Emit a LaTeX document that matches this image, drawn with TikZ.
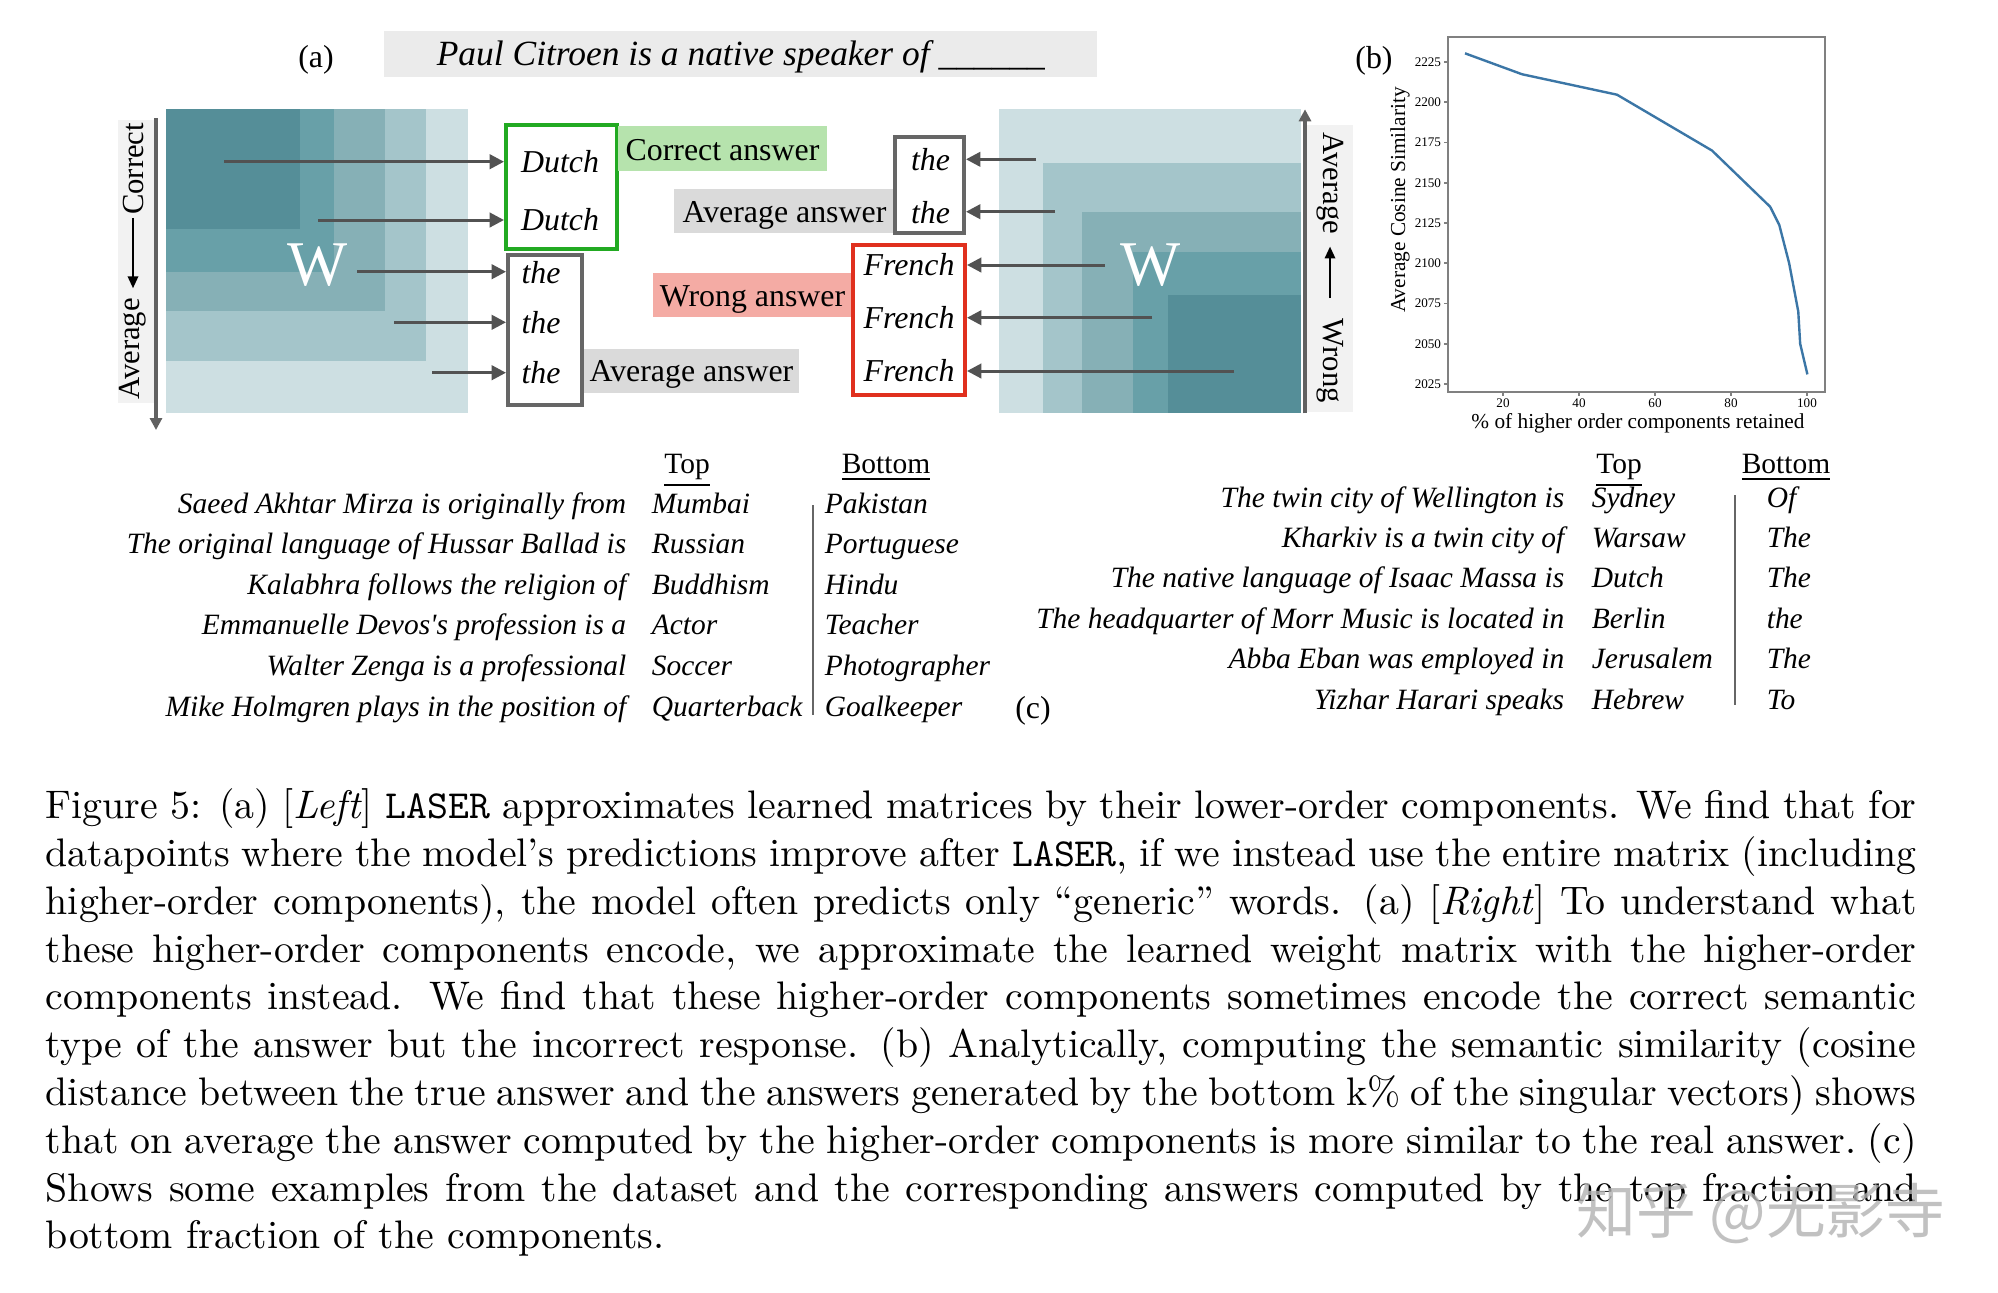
\documentclass[tikz,border=0pt]{standalone}
\usepackage{fontspec}
\newfontfamily\tnr{Liberation Serif}
\newfontfamily\cjk{Noto Sans CJK SC}
\usetikzlibrary{arrows.meta,fit}
\definecolor{matA}{HTML}{CDDFE2}
\definecolor{matB}{HTML}{A4C5CA}
\definecolor{matC}{HTML}{86B0B6}
\definecolor{matD}{HTML}{68A0A8}
\definecolor{matE}{HTML}{558E98}
\definecolor{okgreen}{HTML}{22AA22}
\definecolor{okbg}{HTML}{B6E3AD}
\definecolor{badred}{HTML}{E0301E}
\definecolor{badbg}{HTML}{F4ABA4}
\definecolor{avgbg}{HTML}{DADADA}
\definecolor{promptbg}{HTML}{EBEBEB}
\definecolor{bandbg}{HTML}{F2F2F2}
\definecolor{boxgray}{HTML}{666666}
\definecolor{curve}{HTML}{3B76A6}
\newcommand\capline[1]{\makebox[469.75pt][s]{#1}\\}
\begin{document}
\begin{tikzpicture}[x=0.2511pt,y=-0.2511pt,
  lbl/.style={anchor=base,inner sep=0,font=\tnr\fontsize{8}{9}\selectfont},
  side/.style={anchor=center,inner sep=0,font=\tnr\fontsize{7.7}{9}\selectfont},
  word/.style={anchor=base,inner sep=0,font=\tnr\itshape\fontsize{8}{9}\selectfont},
  tab/.style={inner sep=0,font=\tnr\itshape\fontsize{7.4}{8.8}\selectfont},
  ticklbl/.style={inner sep=.6pt,font=\tnr\fontsize{3.3}{4}\selectfont},
  plotlbl/.style={inner sep=0,font=\tnr\fontsize{5.35}{6}\selectfont},
  ansbox/.style={draw=#1,line width=1pt,inner sep=0},
  arr/.style={draw=black!68,line width=.75pt,-{Triangle[length=3.6pt,width=3.6pt]}},
  axarr/.style={draw=black!62,line width=.8pt,-{Triangle[length=3pt,width=3pt]}},
  textarr/.style={draw=black,line width=.55pt,-{Triangle[length=3pt,width=2.6pt]}}]
\fill[white] (0,0) rectangle (1998,1292);
\useasboundingbox (0,0) rectangle (1998,1292);

% (a) prompt
\node[lbl] (laba) at (316,67.7) {(a)};
\fill[promptbg] (384,31) rectangle (1097,77.3);
\node[word,anchor=base west,font=\tnr\itshape\fontsize{8.9}{10}\selectfont] (prompt) at (436,65) {Paul Citroen is a native speaker of \_\_\_\_\_\_};

% left matrix, lower-order components
\foreach \r/\b/\c in {467.7/413/matA,426/360.7/matB,385/310.7/matC,334/271.7/matD,300/229/matE}
  \fill[\c] (166,109) rectangle (\r,\b);
\node[lbl,text=white,font=\tnr\fontsize{16}{16}\selectfont] (wleft) at (318,285) {W};
\fill[bandbg] (118,120) rectangle (155,403);
\coordinate (ltop) at (156,118);
\coordinate (lbot) at (156,430);
\draw[axarr] (ltop) -- (lbot);
\node[side,rotate=90] (lcorr) at (133,169) {Correct};
\node[side,rotate=90] (lavg) at (133,349) {Average};
\draw[textarr,shorten <=.5pt,shorten >=2.3pt] (lcorr.west) -- (lavg.east);

% left answers
\node[ansbox=okgreen,fit={(506,125.3) (617,249.3)}] (dbox) {};
\node[ansbox=boxgray,fit={(508,255.3) (582,405)}] (tbox) {};
\node[word] (d1) at (560,172.7) {Dutch};
\node[word] (d2) at (560,230) {Dutch};
\node[word] (t1) at (541,283.3) {the};
\node[word] (t2) at (541,333.3) {the};
\node[word] (t3) at (541,383.3) {the};
\foreach \x/\y [count=\i] in {224/161.7,318/220,357/271.7,394/322.3,432/372.7}
  \coordinate (ls\i) at (\x,\y);
\foreach \i in {1,2} \draw[arr] (ls\i) -- (ls\i -| dbox.west);
\foreach \i in {3,4,5} \draw[arr] (ls\i) -- (ls\i -| tbox.west);

% answer tags
\fill[okbg] (618,126) rectangle (827,170.7);
\node[lbl] (corr) at (722.5,160) {Correct answer};
\fill[avgbg] (584,349.3) rectangle (799,393.3);
\node[lbl] (avgl) at (691.5,381.7) {Average answer};
\fill[avgbg] (674,189.3) rectangle (895,233.3);
\node[lbl] (avgr) at (784.5,222.7) {Average answer};
\fill[badbg] (653,273.3) rectangle (852,317.3);
\node[lbl] (wrong) at (752.5,306.7) {Wrong answer};

% right answers
\node[ansbox=boxgray,fit={(895,136.7) (964,233.3)}] (rtbox) {};
\node[ansbox=badred,fit={(853,245) (965,395)}] (fbox) {};
\node[word] (r1) at (930.5,170.7) {the};
\node[word] (r2) at (930.5,223.3) {the};
\node[word] (f1) at (909,275) {French};
\node[word] (f2) at (909,328.3) {French};
\node[word] (f3) at (909,381.7) {French};

% right matrix, higher-order components
\foreach \l/\t/\c in {999/109.3/matA,1043/163.3/matB,1082/212.3/matC,1133/252.3/matD,1168/295/matE}
  \fill[\c] (\l,\t) rectangle (1301,413.3);
\node[lbl,text=white,font=\tnr\fontsize{16}{16}\selectfont] (wright) at (1151,285) {W};
\fill[bandbg] (1305,125) rectangle (1353,411.7);
\coordinate (rbot) at (1305,413.3);
\coordinate (rtop) at (1305,109.3);
\draw[axarr] (rbot) -- (rtop);
\node[side,rotate=-90] (ravg) at (1330,183.4) {Average};
\node[side,rotate=-90] (rwrong) at (1330,360.8) {Wrong};
\draw[textarr,shorten <=5pt,shorten >=2.9pt] (rwrong.west) -- (ravg.east);
\foreach \x/\y [count=\i] in {1036/159.3,1055/211.7,1105/265,1152/317.7,1234/371}
  \coordinate (rs\i) at (\x,\y);
\foreach \i in {1,2} \draw[arr] (rs\i) -- (rs\i -| rtbox.east);
\foreach \i in {3,4,5} \draw[arr] (rs\i) -- (rs\i -| fbox.east);

% (b) plot
\node[lbl] (labb) at (1374,68) {(b)};
\begin{scope}[shift={(1427,424.25)},xscale=3.8,yscale=-1.61]
  \draw[black!50,line width=.5pt] (5.53,20.03) rectangle (104.7,240.5);
  \foreach \v in {2025,2050,...,2225}
    \draw[black!50,line width=.4pt] (5.53,\v-2000) -- ++(-1,0) node[left,ticklbl,text=black] {\v};
  \foreach \v in {20,40,...,100}
    \draw[black!50,line width=.4pt] (\v,20.03) -- ++(0,-2.2) node[below,ticklbl,text=black] {\v};
  \draw[curve,line width=.6pt] plot coordinates {(10,230.4) (25,217.4) (50,204.7) (75,170) (90.3,135.1) (92.7,123.8) (95.3,100) (97.7,70) (98.2,50) (100.1,31)};
\end{scope}
\node[plotlbl,rotate=90] (ylab) at (1400,200) {Average Cosine Similarity};
\node[plotlbl] (xlab) at (1638,423) {\% of higher order components retained};

% (c) examples
\node[tab,anchor=base] (lhtop) at (687,473) {\upshape\underline{Top}};
\node[tab,anchor=base] (lhbot) at (886,473) {\upshape\underline{Bottom}};
\foreach \p/\t/\b [count=\i from 0] in {
  Saeed Akhtar Mirza is originally from/Mumbai/Pakistan,
  The original language of Hussar Ballad is/Russian/Portuguese,
  Kalabhra follows the religion of/Buddhism/Hindu,
  Emmanuelle Devos's profession is a/Actor/Teacher,
  Walter Zenga is a professional/Soccer/Photographer,
  Mike Holmgren plays in the position of/Quarterback/Goalkeeper}{
  \node[tab,anchor=base east] (lp\i) at (627,513+40.6*\i) {\p};
  \node[tab,anchor=base west] (lt\i) at (651,513+40.6*\i) {\t};
  \node[tab,anchor=base west] (lb\i) at (824,513+40.6*\i) {\b};
}
\draw[black!60,line width=.6pt] (813,505) -- (813,715);
\node[tab,anchor=base] (rhtop) at (1619,473) {\upshape\underline{Top}};
\node[tab,anchor=base] (rhbot) at (1786,473) {\upshape\underline{Bottom}};
\foreach \p/\t/\b [count=\i from 0] in {
  The twin city of Wellington is/Sydney/Of,
  Kharkiv is a twin city of/Warsaw/The,
  The native language of Isaac Massa is/Dutch/The,
  The headquarter of Morr Music is located in/Berlin/the,
  Abba Eban was employed in/Jerusalem/The,
  Yizhar Harari speaks/Hebrew/To}{
  \node[tab,anchor=base east] (rp\i) at (1565,507+40.4*\i) {\p};
  \node[tab,anchor=base west] (rt\i) at (1591,507+40.4*\i) {\t};
  \node[tab,anchor=base west] (rb\i) at (1766,507+40.4*\i) {\b};
}
\draw[black!60,line width=.6pt] (1735,495) -- (1735,705);
\node[lbl] (labc) at (1033,718) {(c)};

% caption
\node[anchor=north west,inner sep=0,align=left] (caption) at (45,788) {%
\capline{Figure 5: (a) [\textit{Left}] \texttt{LASER} approximates learned matrices by their lower-order components. We find that for}
\capline{datapoints where the model's predictions improve after \texttt{LASER}, if we instead use the entire matrix (including}
\capline{higher-order components), the model often predicts only ``generic'' words. (a) [\textit{Right}] To understand what}
\capline{these higher-order components encode, we approximate the learned weight matrix with the higher-order}
\capline{components instead. We find that these higher-order components sometimes encode the correct semantic}
\capline{type of the answer but the incorrect response. (b) Analytically, computing the semantic similarity (cosine}
\capline{distance between the true answer and the answers generated by the bottom k\% of the singular vectors) shows}
\capline{\spaceskip=3.2pt plus 1pt minus 1.8pt\xspaceskip=\spaceskip that on average the answer computed by the higher-order components is more similar to the real answer. (c)}
\capline{Shows some examples from the dataset and the corresponding answers computed by the top fraction and}
bottom fraction of the components.};
\node[font=\cjk\fontsize{15}{15}\selectfont,text=black!30,text opacity=.8] (mark) at (1761,1214) {知乎 @无影寺};
\end{tikzpicture}
\end{document}
